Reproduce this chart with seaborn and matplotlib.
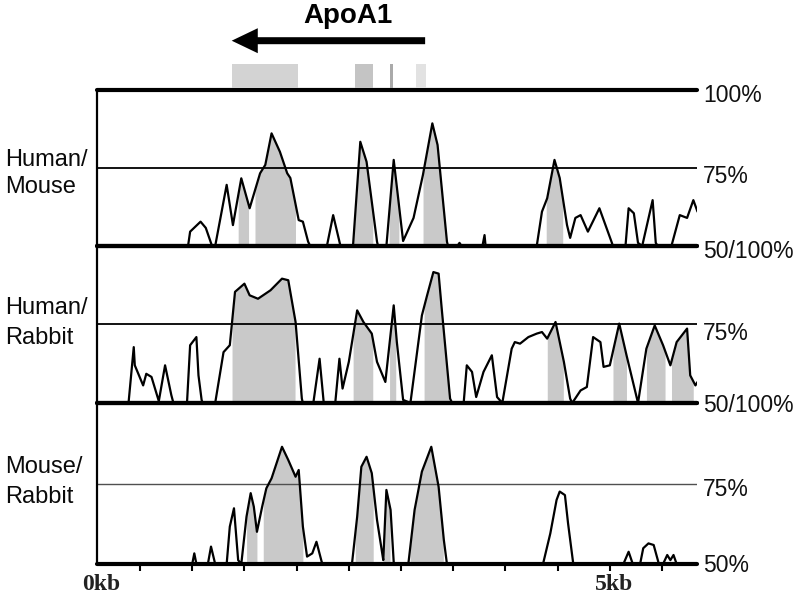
import numpy as np
import pandas as pd
import matplotlib
matplotlib.use("Agg")
import matplotlib.pyplot as plt
import seaborn as sns
from matplotlib.patches import Rectangle, FancyArrow

# ---------------- data (position in kb, percent identity) ----------------
hm_kb = [0.08, 0.96, 0.98, 1.08, 1.13, 1.19, 1.22, 1.33, 1.39, 1.47, 1.55, 1.65, 1.70, 1.76, 1.84,
         1.91, 1.94, 2.02, 2.06, 2.11, 2.13, 2.29, 2.35, 2.42, 2.54, 2.61, 2.67, 2.77, 2.78, 2.86,
         2.93, 3.02, 3.12, 3.21, 3.30, 3.35, 3.44, 3.45, 3.54, 3.56, 3.58, 3.78, 3.80, 3.81, 4.30,
         4.35, 4.40, 4.47, 4.52, 4.59, 4.62, 4.67, 4.72, 4.79, 4.90, 5.02, 5.03, 5.15, 5.18, 5.23,
         5.27, 5.31, 5.41, 5.44, 5.46, 5.59, 5.67, 5.74, 5.80, 5.84]
hm_pct = [50, 50, 54.6, 57.8, 55.8, 50, 50, 69.6, 56.7, 71.7, 62.1, 73.3, 76.0, 86.1, 80.2,
          73.3, 71.8, 58.3, 57.8, 51.4, 50, 50, 59.9, 50, 50, 83.4, 77.0, 51.4, 50, 50,
          77.6, 51.6, 59.0, 72.8, 89.3, 82.4, 51.4, 50, 50, 51.0, 50, 50, 53.5, 50, 50,
          61.0, 65.3, 77.6, 71.8, 56.7, 52.6, 59.0, 59.9, 54.6, 62.1, 51.0, 50, 50, 62.1, 60.5,
          51.0, 50, 64.7, 51.0, 50, 50, 59.9, 59.0, 64.7, 61.0]
hm_gray = [(1.44, 1.54), (1.60, 1.99), (2.54, 2.73), (2.885, 2.98), (3.21, 3.43), (4.39, 4.55)]

hr_kb = [0.08, 0.39, 0.44, 0.45, 0.53, 0.56, 0.61, 0.68, 0.74, 0.80,
         0.82, 0.95, 0.98, 1.04, 1.06, 1.09, 1.10, 1.22, 1.30, 1.36,
         1.41, 1.50, 1.55, 1.63, 1.75, 1.86, 1.92, 1.99, 2.05, 2.06,
         2.16, 2.22, 2.26, 2.37, 2.41, 2.44, 2.50, 2.58, 2.64, 2.72,
         2.77, 2.85, 2.93, 2.96, 3.02, 3.09, 3.20, 3.25, 3.31, 3.36,
         3.39, 3.47, 3.49, 3.60, 3.63, 3.68, 3.72, 3.79, 3.87, 3.92,
         3.97, 4.06, 4.09, 4.14, 4.22, 4.30, 4.35, 4.40, 4.48, 4.56,
         4.62, 4.64, 4.72, 4.78, 4.84, 4.91, 4.94, 5.00, 5.09, 5.16,
         5.26, 5.27, 5.35, 5.43, 5.51, 5.58, 5.64, 5.74, 5.77, 5.82, 5.84]
hr_pct = [50, 50, 67.8, 62.0, 55.6, 59.3, 58.3, 50.6, 62.0, 52.5,
          50, 50, 68.4, 71.0, 58.8, 51.0, 50, 50, 66.2, 68.4,
          85.4, 88.0, 84.3, 83.2, 85.9, 89.6, 89.1, 75.8, 51.4, 50,
          50, 64.1, 50, 50, 64.1, 54.6, 63.1, 79.5, 75.8, 72.1,
          63.1, 56.7, 81.1, 69.4, 51.0, 50, 77.9, 84.3, 91.7, 91.2,
          80.0, 51.4, 50, 50, 62.0, 59.9, 51.9, 59.9, 65.2, 51.9,
          50, 67.3, 69.4, 68.9, 71.0, 72.1, 72.6, 70.5, 75.8, 63.1,
          51.4, 50, 54.0, 55.1, 71.0, 69.4, 61.5, 62.0, 75.3, 65.2,
          51.4, 50, 67.3, 74.7, 68.4, 62.0, 69.4, 73.7, 58.8, 55.6, 56.7]
hr_gray = [(1.38, 1.985), (2.54, 2.73), (2.89, 2.95), (3.22, 3.46), (4.40, 4.555),
           (5.03, 5.16), (5.35, 5.53), (5.59, 5.80)]

mr_kb = [0.08, 1.00, 1.02, 1.04, 1.15, 1.18, 1.22, 1.33, 1.36, 1.40,
         1.44, 1.47, 1.52, 1.56, 1.59, 1.62, 1.67, 1.71, 1.76, 1.86,
         1.92, 1.99, 2.02, 2.06, 2.10, 2.15, 2.19, 2.24, 2.25, 2.53,
         2.58, 2.62, 2.67, 2.72, 2.77, 2.82, 2.83, 2.86, 2.90, 2.93,
         2.94, 3.07, 3.13, 3.20, 3.29, 3.36, 3.41, 3.44, 4.36, 4.43,
         4.49, 4.52, 4.57, 4.60, 4.65, 5.13, 5.18, 5.22, 5.29, 5.32,
         5.37, 5.42, 5.47, 5.51, 5.55, 5.58, 5.61, 5.64, 5.84]
mr_pct = [50, 50, 53.3, 50, 50, 55.4, 50, 50, 61.6, 67.3,
          51.2, 50, 64.7, 72.0, 67.8, 60.0, 67.8, 73.5, 76.6, 86.4,
          82.3, 77.1, 79.2, 61.6, 52.3, 53.3, 56.9, 50.7, 50, 50,
          64.7, 80.2, 83.3, 78.2, 63.7, 53.3, 51.2, 73.0, 66.8, 50.6,
          50, 50, 66.8, 78.7, 86.4, 74.0, 57.5, 50, 50, 59.5,
          69.9, 72.5, 71.4, 62.6, 50, 50, 53.8, 50, 50, 54.9,
          56.4, 55.9, 50, 50, 52.8, 51.2, 52.8, 50, 50]
mr_gray = [(1.52, 1.62), (1.68, 2.06), (2.56, 2.735), (2.83, 2.895), (3.086, 3.405)]

panel_names = [("Human/", "Mouse"), ("Human/", "Rabbit"), ("Mouse/", "Rabbit")]

# gene annotation (kb)
gene_name = "ApoA1"
gene_start, gene_end = 3.231, 1.378   # arrow drawn from start to end (leftward)
exons = [(1.378, 2.016), (2.559, 2.735), (2.895, 2.926), (3.144, 3.240)]
exon_colors = ["#d3d3d3", "#c4c4c4", "#aaaaaa", "#e2e2e2"]

# ---------------- style ----------------
sns.set_style("white")
plt.rcParams['font.family'] = ['Liberation Sans', 'DejaVu Sans']

W, H = 799, 600
fig = plt.figure(figsize=(W / 100, H / 100), dpi=100)
fig.patch.set_facecolor("white")

XMIN, XMAX = 0.088, 5.835
LEFT_PX, RIGHT_PX = 97, 697
FILL = "#c9c9c9"

panels = [
    (90, 246, hm_kb, hm_pct, hm_gray, "black", 1.3),
    (246, 403, hr_kb, hr_pct, hr_gray, "black", 1.3),
    (403, 564, mr_kb, mr_pct, mr_gray, "#505050", 1.0),
]

axes = []
for i, (top, bot, kb, pct, gray, c75, lw75) in enumerate(panels):
    ax = fig.add_axes([LEFT_PX / W, 1 - bot / H, (RIGHT_PX - LEFT_PX) / W, (bot - top) / H])
    df = pd.DataFrame({"kb": kb, "pct": pct})
    xs = np.linspace(XMIN, XMAX, 4000)
    ys = np.interp(xs, df["kb"], df["pct"])
    for a, b in gray:
        m = (xs >= a) & (xs <= b)
        ax.fill_between(xs[m], 50, ys[m], color=FILL, lw=0, zorder=1)
    sns.lineplot(data=df, x="kb", y="pct", ax=ax, color="black", lw=1.6,
                 sort=False, estimator=None, zorder=3)
    ax.axhline(75, color=c75, lw=lw75, zorder=2)
    ax.axhline(100, color="black", lw=3.0, clip_on=False, zorder=4)
    ax.axhline(50, color="black", lw=3.0, clip_on=False, zorder=4)
    ax.set_xlim(XMIN, XMAX)
    ax.set_ylim(50, 100)
    ax.set_xlabel("")
    ax.set_ylabel("")
    ax.set_yticks([])
    for s in ["top", "right", "bottom"]:
        ax.spines[s].set_visible(False)
    ax.spines["left"].set_color("black")
    ax.spines["left"].set_linewidth(1.6)
    ax.set_facecolor("none")
    if i == 2:
        ax.set_xticks(np.arange(0.5, 5.8, 0.5))
        ax.tick_params(axis="x", bottom=True, length=5, width=1.5, direction="out",
                       color="black", labelbottom=False)
    else:
        ax.set_xticks([])
    axes.append(ax)

    n1, n2 = panel_names[i]
    ylab = [(160, 187), (308, 338), (467, 497)][i]
    fig.text(5 / W, 1 - ylab[0] / H, n1, fontsize=17, ha="left", va="center", color="#0a0a0a")
    fig.text(5 / W, 1 - ylab[1] / H, n2, fontsize=17, ha="left", va="center", color="#0a0a0a")

# right-hand percent labels
for txt, ypx in [("100%", 95), ("75%", 177), ("50/100%", 252), ("75%", 333),
                 ("50/100%", 405), ("75%", 490), ("50%", 566)]:
    fig.text(703 / W, 1 - ypx / H, txt, fontsize=16.5, ha="left", va="center", color="#111111")

# bottom kb labels
fig.text(101 / W, 1 - 585 / H, "0kb", fontsize=17, fontweight="bold", ha="center", va="center",
         family=["Liberation Serif", "DejaVu Serif"], color="#222222")
fig.text(614 / W, 1 - 585 / H, "5kb", fontsize=17, fontweight="bold", ha="center", va="center",
         family=["Liberation Serif", "DejaVu Serif"], color="#222222")

# gene annotation
ax0 = fig.add_axes([LEFT_PX / W, 1 - 90 / H, (RIGHT_PX - LEFT_PX) / W, 90 / H])
ax0.set_xlim(XMIN, XMAX)
ax0.set_ylim(90, 0)
ax0.axis("off")
for (a, b), c in zip(exons, exon_colors):
    ax0.add_patch(Rectangle((a, 64), b - a, 24, color=c, lw=0))
ax0.add_patch(FancyArrow(gene_start, 40.7, gene_end - gene_start, 0, width=7,
                         head_width=25, head_length=0.25, length_includes_head=True,
                         color="black", lw=0))
ax0.text((gene_start + gene_end) / 2 + 0.19, 16, gene_name, fontsize=20, fontweight="bold",
         ha="center", va="center", color="black")

fig.savefig("out.png", dpi=100, facecolor="white")
